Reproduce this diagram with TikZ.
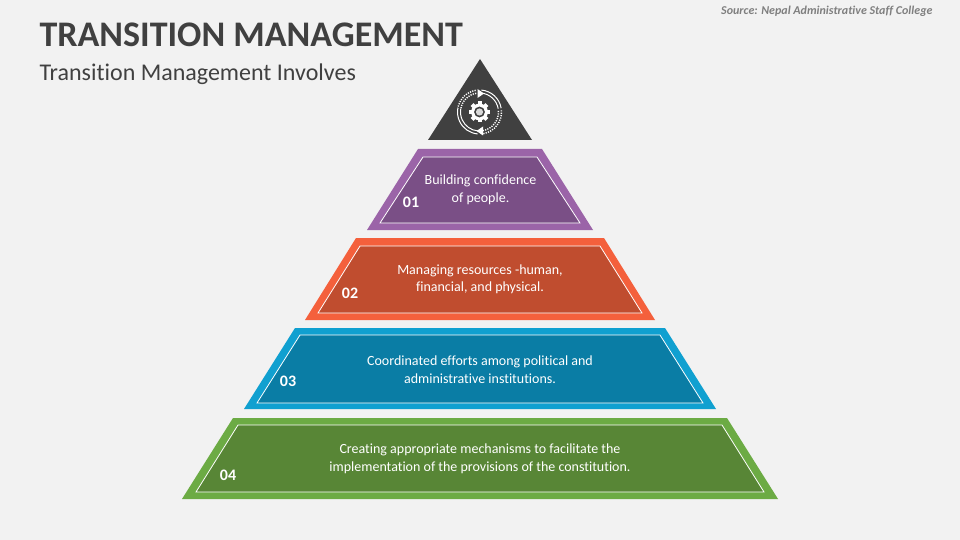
\documentclass[tikz,border=0pt]{standalone}
\usepackage{fontspec}
\setmainfont[Ligatures=NoCommon]{Carlito}
\definecolor{pagegrey}{HTML}{F2F2F2}
\definecolor{titlegrey}{HTML}{404040}
\definecolor{sourcegrey}{HTML}{7F7F7F}
\definecolor{outerA}{HTML}{9B64A8}
\definecolor{innerA}{HTML}{7A4F86}
\definecolor{outerB}{HTML}{F4603C}
\definecolor{innerB}{HTML}{C04D2F}
\definecolor{outerC}{HTML}{10A0D0}
\definecolor{innerC}{HTML}{0A7DA5}
\definecolor{outerD}{HTML}{6CAB44}
\definecolor{innerD}{HTML}{588636}
\tikzset{
	bodytext/.style={text=white,align=center,font=\fontsize{14}{17.5}\selectfont},
	numtext/.style={text=white,font=\fontsize{16}{16}\selectfont\bfseries},
	iconline/.style={white,line width=1pt},
	icondots/.style={white,line width=1.4pt,dash pattern=on 1.2pt off 1.2pt},
}
\def\ring#1#2#3{(479.5,112)++(#1:#3) arc[start angle=#1,end angle=#2,radius=#3]}

\begin{document}
\begin{tikzpicture}[x=1pt,y=-1pt]
\useasboundingbox (0,0) rectangle (960,540);
\fill[pagegrey] (0,0) rectangle (960,540);
\node[anchor=west,text=titlegrey,font=\fontsize{36}{36}\selectfont\bfseries] (title) at (36,35) {TRANSITION MANAGEMENT};
\node[anchor=west,text=titlegrey,font=\fontsize{24}{24}\selectfont] (subtitle) at (36,74) {Transition Management Involves};
\node[anchor=east,text=sourcegrey,font=\fontsize{12}{12}\selectfont\bfseries\itshape] (source) at (936,11) {Source: Nepal Administrative Staff College};
% top triangle
\fill[titlegrey] (480,59) -- (532,140) -- (428,140) -- cycle;
% levels
\foreach \n/\ya/\yb/\xa/\xb/\ia/\ib/\ic/\id/\xi/\ym/\nx/\ny in {
	A/149/230/418/367/157/223/423/380/480.5/190/411/202,
	B/238/320/356/305/246/313/360/318/480/279.5/350/293,
	C/328/409/295/244/335/403/300/257/480/369.5/288/381,
	D/418/499/233/182/425/492/238/196/480/459/228/475}{
	\fill[outer\n] (\xa,\ya) -- ({960-\xa},\ya) -- ({960-\xb},\yb) -- (\xb,\yb) -- cycle;
	\draw[white,line width=0.8pt,fill=inner\n] (\ic,\ia) -- ({960-\ic},\ia) -- ({960-\id},\ib) -- (\id,\ib) -- cycle;
	\coordinate (mid\n) at (\xi,\ym);
	\coordinate (num\n) at (\nx,\ny);
}
\node[bodytext] (textA) at (midA) {Building confidence\\of people.};
\node[bodytext] (textB) at (midB) {Managing resources -human,\\financial, and physical.};
\node[bodytext] (textC) at (midC) {Coordinated efforts among political and\\administrative institutions.};
\node[bodytext] (textD) at (midD) {Creating appropriate mechanisms to facilitate the\\implementation of the provisions of the constitution.};
\foreach \n/\t in {A/01,B/02,C/03,D/04}{
	\node[numtext] (label\n) at (num\n) {\t};
}
% icon
\fill[white] (479.5,112) circle (8.4);
\foreach \a in {0,45,...,315}{
	\fill[white,rotate around={\a:(479.5,112)}] (477.5,105) rectangle (481.5,101.5);
}
\fill[titlegrey] (479.5,112) circle (5.4);
\fill[white!85!black] (479.5,112) circle (3.6);
\foreach \r in {19,22}{
	\draw[iconline] \ring{95}{190}{\r};
	\draw[iconline] \ring{275}{350}{\r};
	\draw[icondots] \ring{80}{-5}{\r};
	\draw[icondots] \ring{260}{190}{\r};
}
\fill[white] (477.5,89) -- (484,93.5) -- (477.5,98) -- cycle;
\fill[white] (483,126.5) -- (476.5,131) -- (483,135.5) -- cycle;
\end{tikzpicture}
\end{document}
